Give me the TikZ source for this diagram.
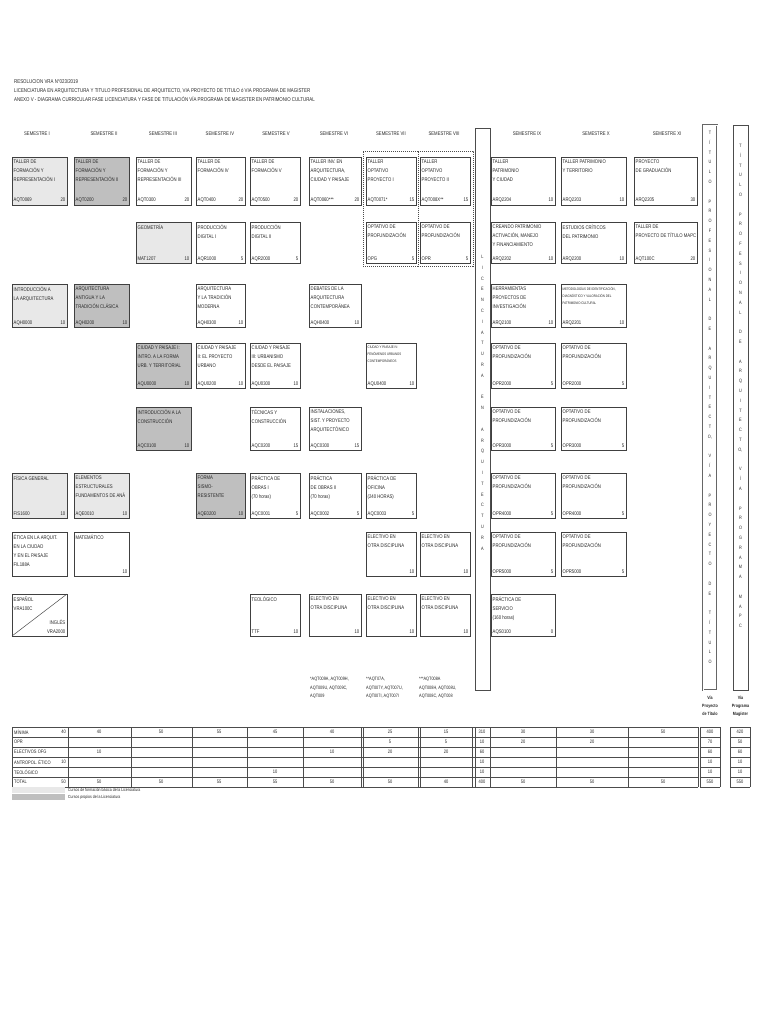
\documentclass[tikz,border=0pt]{standalone}
\usepackage{fontspec}
\setmainfont{Liberation Sans}
\newfontfamily\nf[FakeStretch=0.8]{Liberation Sans}
\tikzset{
 cbox/.style={draw=black!75, line width=0.7pt, inner sep=0pt, outer sep=0pt, rectangle},
 light/.style={fill=gray!18},
 dark/.style={fill=gray!50},
 plain/.style={fill=white},
 ctext/.style={inner sep=0pt, font=\nf\fontsize{5.3}{9}\selectfont, align=left, text=black!85},
 stext/.style={inner sep=0pt, font=\nf\fontsize{3.6}{7}\selectfont, align=left, text=black!85},
 dbox/.style={draw=black!70, dashed, dash pattern=on 1.2pt off 0.8pt, line width=0.6pt, inner sep=0pt, outer sep=0pt, rectangle},
 vbox/.style={draw=black!70, line width=0.6pt, inner sep=0pt, outer sep=0pt, rectangle},
 vtext/.style={inner sep=0pt, align=center, font=\nf\fontsize{4.8}{9.8}\selectfont, text=black!85},
 semh/.style={inner sep=0pt, font=\nf\fontsize{5.3}{6}\selectfont, text=black!85},
 tcell/.style={inner sep=0pt, font=\nf\fontsize{5}{6}\selectfont, text=black!85},
 hdr/.style={inner sep=0pt, anchor=base west, font=\nf\fontsize{5.5}{6}\selectfont, text=black!85},
 tline/.style={draw=black!70, line width=0.5pt},
}
% name, x1, y1, x2, y2, style, text, code, credits
\newcommand\course[9]{%
 \node[cbox,#6,minimum width={#4-#2}, minimum height={#5-#3}] (#1) at ({(#2+#4)/2},{(#3+#5)/2}) {};
 \node[ctext,anchor=north west] (#1-t) at ([xshift=1.5pt,yshift=-2.5pt]#1.north west) {#7};
 \node[ctext,anchor=base west] (#1-c) at ([xshift=1.5pt,yshift=3pt]#1.south west) {#8};
 \node[ctext,anchor=base east] (#1-k) at ([xshift=-1.5pt,yshift=3pt]#1.south east) {#9};
}
\begin{document}
\begin{tikzpicture}[x=1pt,y=-1pt]
\useasboundingbox[fill=white] (0,0) rectangle (768,1024);
% header
\node[hdr] (h1) at (14,84) {RESOLUCION VRA N°023/2019};
\node[hdr] (h2) at (14,93) {LICENCIATURA EN ARQUITECTURA Y TITULO PROFESIONAL DE ARQUITECTO, VIA PROYECTO DE TITULO ó VIA PROGRAMA DE MAGISTER};
\node[hdr] (h3) at (14,102) {ANEXO V - DIAGRAMA CURRICULAR FASE LICENCIATURA Y FASE DE TITULACIÓN VÍA PROGRAMA DE MAGISTER EN PATRIMONIO CULTURAL};
% semester headers
\node[semh] (s1) at (37,134) {SEMESTRE I};
\node[semh] (s2) at (104,134) {SEMESTRE II};
\node[semh] (s3) at (163,134) {SEMESTRE III};
\node[semh] (s4) at (220,134) {SEMESTRE IV};
\node[semh] (s5) at (276,134) {SEMESTRE V};
\node[semh] (s6) at (334,134) {SEMESTRE VI};
\node[semh] (s7) at (391,134) {SEMESTRE VII};
\node[semh] (s8) at (444,134) {SEMESTRE VIII};
\node[semh] (s9) at (527,134) {SEMESTRE IX};
\node[semh] (s10) at (596,134) {SEMESTRE X};
\node[semh] (s11) at (667,134) {SEMESTRE XI};
% vertical boxes
\node[vbox,minimum width=15pt,minimum height=562pt] (lic) at (482.5,409) {};
\node[vbox,draw=black!60,double,double distance=0.6pt,minimum width=14pt,minimum height=565pt] (tit1) at (710,407.5) {};
\node[vbox,minimum width=15pt,minimum height=565pt] (tit2) at (740.5,407.5) {};
\node[vtext,anchor=north,font=\nf\fontsize{4.8}{10.8}\selectfont] (lict) at (482.5,255) {L\\I\\C\\E\\N\\C\\I\\A\\T\\U\\R\\A\\[10.8pt]E\\N\\[10.8pt]A\\R\\Q\\U\\I\\T\\E\\C\\T\\U\\R\\A};
\node[vtext,anchor=north] (tit1t) at (710,131) {T\\Í\\T\\U\\L\\O\\[9.8pt]P\\R\\O\\F\\E\\S\\I\\O\\N\\A\\L\\[9.8pt]D\\E\\[9.8pt]A\\R\\Q\\U\\I\\T\\E\\C\\T\\O,\\[9.8pt]V\\Í\\A\\[9.8pt]P\\R\\O\\Y\\E\\C\\T\\O\\[9.8pt]D\\E\\[9.8pt]T\\Í\\T\\U\\L\\O};
\node[vtext,anchor=north,font=\nf\fontsize{4.8}{9.8}\selectfont] (tit2t) at (740.5,144) {T\\Í\\T\\U\\L\\O\\[9.8pt]P\\R\\O\\F\\E\\S\\I\\O\\N\\A\\L\\[9.8pt]D\\E\\[9.8pt]A\\R\\Q\\U\\I\\T\\E\\C\\T\\O,\\[9.8pt]V\\Í\\A\\[9.8pt]P\\R\\O\\G\\R\\A\\M\\A\\[9.8pt]M\\A\\P\\C};
% dashed groups
\node[dbox,minimum width=55pt,minimum height=115pt] (g7) at (390.5,208.5) {};
\node[dbox,minimum width=55pt,minimum height=115pt] (g8) at (445.5,208.5) {};
% row 1
\course{a1}{12}{157}{67}{205}{light}{TALLER DE\\FORMACIÓN Y\\REPRESENTACIÓN I}{AQT0069}{20}
\course{a2}{74}{157}{129}{205}{dark}{TALLER DE\\FORMACIÓN Y\\REPRESENTACIÓN II}{AQT0200}{20}
\course{a3}{136}{157}{191}{205}{plain}{TALLER DE\\FORMACIÓN Y\\REPRESENTACIÓN III}{AQT0300}{20}
\course{a4}{196}{157}{245}{205}{plain}{TALLER DE\\FORMACIÓN IV}{AQT0400}{20}
\course{a5}{250}{157}{300}{205}{plain}{TALLER DE\\FORMACIÓN V}{AQT0500}{20}
\course{a6}{309}{157}{361}{205}{plain}{TALLER INV. EN\\ARQUITECTURA,\\CIUDAD Y PAISAJE}{AQT0060***}{20}
\course{a7}{366}{157}{416}{205}{plain}{TALLER\\OPTATIVO\\PROYECTO I}{AQT0071*}{15}
\course{a8}{420}{157}{470}{205}{plain}{TALLER\\OPTATIVO\\PROYECTO II}{AQT008X**}{15}
\course{a9}{491}{157}{555}{205}{plain}{TALLER\\PATRIMONIO\\Y CIUDAD}{ARQ2204}{10}
\course{a10}{561}{157}{626}{205}{plain}{TALLER PATRIMONIO\\Y TERRITORIO}{ARQ2203}{10}
\course{a11}{634}{157}{697}{205}{plain}{PROYECTO\\DE GRADUACIÓN}{ARQ2205}{30}
% row 2
\course{b3}{136}{222}{191}{263}{light}{GEOMETRÍA}{MAT1207}{10}
\course{b4}{196}{222}{245}{263}{plain}{PRODUCCIÓN\\DIGITAL I}{AQR1000}{5}
\course{b5}{250}{222}{300}{263}{plain}{PRODUCCIÓN\\DIGITAL II}{AQR2000}{5}
\course{b7}{366}{222}{416}{263}{plain}{OPTATIVO DE\\PROFUNDIZACIÓN}{OPG}{5}
\course{b8}{420}{222}{470}{263}{plain}{OPTATIVO DE\\PROFUNDIZACIÓN}{OPR}{5}
\course{b9}{491}{222}{555}{263}{plain}{CREANDO PATRIMONIO\\ACTIVACIÓN, MANEJO\\Y FINANCIAMIENTO}{ARQ2202}{10}
\course{b10}{561}{222}{626}{263}{plain}{ESTUDIOS CRÍTICOS\\DEL PATRIMONIO}{ARQ2200}{10}
\course{b11}{634}{222}{697}{263}{plain}{TALLER DE\\PROYECTO DE TÍTULO MAPC}{AQT100C}{20}
% row 3
\course{c1}{12}{284}{67}{327}{light}{INTRODUCCIÓN A\\LA ARQUITECTURA}{AQH0000}{10}
\course{c2}{74}{284}{129}{327}{dark}{ARQUITECTURA\\ANTIGUA Y LA\\TRADICIÓN CLÁSICA}{AQH0200}{10}
\course{c4}{196}{284}{245}{327}{plain}{ARQUITECTURA\\Y LA TRADICIÓN\\MODERNA}{AQH0300}{10}
\course{c6}{309}{284}{361}{327}{plain}{DEBATES DE LA\\ARQUITECTURA\\CONTEMPORÁNEA}{AQH0400}{10}
\course{c9}{491}{284}{555}{327}{plain}{HERRAMIENTAS\\PROYECTOS DE\\INVESTIGACIÓN}{ARQ2100}{10}
\course{c10}{561}{284}{626}{327}{plain}{}{ARQ2201}{10}
\node[stext,anchor=north west] (c10-s) at ([xshift=1.5pt,yshift=-3pt]c10.north west) {METODOLOGÍAS DE IDENTIFICACIÓN,\\DIAGNÓSTICO Y VALORACIÓN DEL\\PATRIMONIO CULTURAL};
% row 4
\course{d3}{136}{343}{191}{388}{dark}{CIUDAD Y PAISAJE I:\\INTRO. A LA FORMA\\URB. Y TERRITORIAL}{AQU0000}{10}
\course{d4}{196}{343}{245}{388}{plain}{CIUDAD Y PAISAJE\\II: EL PROYECTO\\URBANO}{AQU0200}{10}
\course{d5}{250}{343}{300}{388}{plain}{CIUDAD Y PAISAJE\\III: URBANISMO\\DESDE EL PAISAJE}{AQU0300}{10}
\course{d7}{366}{343}{416}{388}{plain}{}{AQU0400}{10}
\node[stext,anchor=north west] (d7-s) at ([xshift=1.5pt,yshift=-3pt]d7.north west) {CIUDAD Y PAISAJE IV:\\FENÓMENOS URBANOS\\CONTEMPORÁNEOS};
\course{d9}{491}{343}{555}{388}{plain}{OPTATIVO DE\\PROFUNDIZACIÓN}{OPR2000}{5}
\course{d10}{561}{343}{626}{388}{plain}{OPTATIVO DE\\PROFUNDIZACIÓN}{OPR2000}{5}
% row 5
\course{e3}{136}{407}{191}{450}{dark}{INTRODUCCIÓN A LA\\CONSTRUCCIÓN}{AQC0100}{10}
\course{e5}{250}{407}{300}{450}{plain}{TÉCNICAS Y\\CONSTRUCCIÓN}{AQC0200}{15}
\course{e6}{309}{407}{361}{450}{plain}{INSTALACIONES,\\SIST. Y PROYECTO\\ARQUITECTÓNICO}{AQC0300}{15}
\course{e9}{491}{407}{555}{450}{plain}{OPTATIVO DE\\PROFUNDIZACIÓN}{OPR3000}{5}
\course{e10}{561}{407}{626}{450}{plain}{OPTATIVO DE\\PROFUNDIZACIÓN}{OPR3000}{5}
% row 6
\course{f1}{12}{473}{67}{518}{light}{FÍSICA GENERAL}{FIS1600}{10}
\course{f2}{74}{473}{129}{518}{light}{ELEMENTOS\\ESTRUCTURALES\\FUNDAMENTOS DE ANÁ}{AQE0010}{10}
\course{f4}{196}{473}{245}{518}{dark}{FORMA\\SISMO-\\RESISTENTE}{AQE0200}{10}
\course{f5}{250}{473}{300}{518}{plain}{PRÁCTICA DE\\OBRAS I\\(70 horas)}{AQC0001}{5}
\course{f6}{309}{473}{361}{518}{plain}{PRÁCTICA\\DE OBRAS II\\(70 horas)}{AQC0002}{5}
\course{f7}{366}{473}{416}{518}{plain}{PRÁCTICA DE\\OFICINA\\(240 HORAS)}{AQC0003}{5}
\course{f9}{491}{473}{555}{518}{plain}{OPTATIVO DE\\PROFUNDIZACIÓN}{OPR4000}{5}
\course{f10}{561}{473}{626}{518}{plain}{OPTATIVO DE\\PROFUNDIZACIÓN}{OPR4000}{5}
% row 7
\course{g1}{12}{532}{67}{576}{plain}{ÉTICA EN LA ARQUIT.\\EN LA CIUDAD\\Y EN EL PAISAJE\\FIL188A}{}{}
\course{g2}{74}{532}{129}{576}{plain}{MATEMÁTICO}{}{10}
\course{g7}{366}{532}{416}{576}{plain}{ELECTIVO EN\\OTRA DISCIPLINA}{}{10}
\course{g8}{420}{532}{470}{576}{plain}{ELECTIVO EN\\OTRA DISCIPLINA}{}{10}
\course{g9}{491}{532}{555}{576}{plain}{OPTATIVO DE\\PROFUNDIZACIÓN}{OPR5000}{5}
\course{g10}{561}{532}{626}{576}{plain}{OPTATIVO DE\\PROFUNDIZACIÓN}{OPR5000}{5}
% row 8
\course{h1}{12}{594}{67}{636}{plain}{ESPAÑOL\\VRA100C}{}{}
\draw[draw=black!70,line width=0.5pt] (h1.south west) -- (h1.north east);
\node[ctext,anchor=south east,align=right] (h1-r) at ([xshift=-1.5pt,yshift=2pt]h1.south east) {INGLÉS\\VRA2000};
\course{h5}{250}{594}{300}{636}{plain}{TEOLÓGICO}{TTF}{10}
\course{h6}{309}{594}{361}{636}{plain}{ELECTIVO EN\\OTRA DISCIPLINA}{}{10}
\course{h7}{366}{594}{416}{636}{plain}{ELECTIVO EN\\OTRA DISCIPLINA}{}{10}
\course{h8}{420}{594}{470}{636}{plain}{ELECTIVO EN\\OTRA DISCIPLINA}{}{10}
\course{h9}{491}{594}{555}{636}{plain}{PRÁCTICA DE\\SERVICIO\\(160 horas)}{AQS0100}{0}
% footnotes
\node[stext,anchor=north west,font=\nf\fontsize{4.8}{8.5}\selectfont] (fn6) at (310,677) {*AQT009A, AQT009H,\\AQT009U, AQT009C,\\AQT009};
\node[stext,anchor=north west,font=\nf\fontsize{4.8}{8.5}\selectfont] (fn7) at (366,677) {**AQT07A,\\AQT007Y, AQT007U,\\AQT007I, AQT007I};
\node[stext,anchor=north west,font=\nf\fontsize{4.8}{8.5}\selectfont] (fn8) at (419,677) {***AQT008A\\AQT008H, AQT008U,\\AQT008C, AQT008};
\node[stext,anchor=north,align=center,font=\nf\bfseries\fontsize{4.6}{8}\selectfont] (via1) at (710,696) {Vía\\Proyecto\\de Título};
\node[stext,anchor=north,align=center,font=\nf\bfseries\fontsize{4.6}{8}\selectfont] (via2) at (740.5,696) {Vía\\Programa\\Magíster};
% table
\foreach \y in {727,737,747,757,767,777,787} {
  \draw[tline] (12,\y) -- (698,\y);
  \draw[tline] (700,\y) -- (720,\y);
  \draw[tline] (730,\y) -- (750,\y);
}
\foreach \x in {12,68,131,192,247,303,361,363,418,420,472,475,490,556,628,698,700,720,730,750} {
  \draw[tline] (\x,727) -- (\x,787);
}
\foreach \lab [count=\r] in {MÍNIMA,OPR,ELECTIVOS OFG,ANTROPOL. ÉTICO,TEOLÓGICO,TOTAL} {
  \node[tcell,anchor=west] (tl\r) at (14,{722+10*\r}) {\lab};
}
\foreach \x/\v [count=\i] in {99/40,161/50,219/55,275/45,332/40,390/25,446/15,482/310,523/30,592/30,663/50,710/400,740/420}
  \node[tcell] (ta\i) at (\x,732) {\v};
\node[tcell,anchor=east] (ta0) at (66,732) {40};
\foreach \x/\v [count=\i] in {390/5,446/5,482/10,523/20,592/20,710/70,740/50}
  \node[tcell] (tb\i) at (\x,742) {\v};
\foreach \x/\v [count=\i] in {99/10,332/10,390/20,446/20,482/60,710/60,740/60}
  \node[tcell] (tc\i) at (\x,752) {\v};
\node[tcell,anchor=east] (td0) at (66,762) {10};
\foreach \x/\v [count=\i] in {482/10,710/10,740/10}
  \node[tcell] (td\i) at (\x,762) {\v};
\foreach \x/\v [count=\i] in {275/10,482/10,710/10,740/10}
  \node[tcell] (te\i) at (\x,772) {\v};
\node[tcell,anchor=east] (tf0) at (66,782) {50};
\foreach \x/\v [count=\i] in {99/50,161/50,219/55,275/55,332/50,390/50,446/40,482/400,523/50,592/50,663/50,710/550,740/550}
  \node[tcell] (tf\i) at (\x,782) {\v};
% legend
\node[fill=gray!18,minimum width=53pt,minimum height=6pt,inner sep=0pt] (lg1) at (38.5,790) {};
\node[fill=gray!50,minimum width=53pt,minimum height=6pt,inner sep=0pt] (lg2) at (38.5,797) {};
\node[tcell,anchor=west,font=\nf\fontsize{4.4}{5}\selectfont] (lg1t) at (68,790) {Cursos de formación básica de la Licenciatura};
\node[tcell,anchor=west,font=\nf\fontsize{4.4}{5}\selectfont] (lg2t) at (68,797) {Cursos propios de la Licenciatura};
\end{tikzpicture}
\end{document}
